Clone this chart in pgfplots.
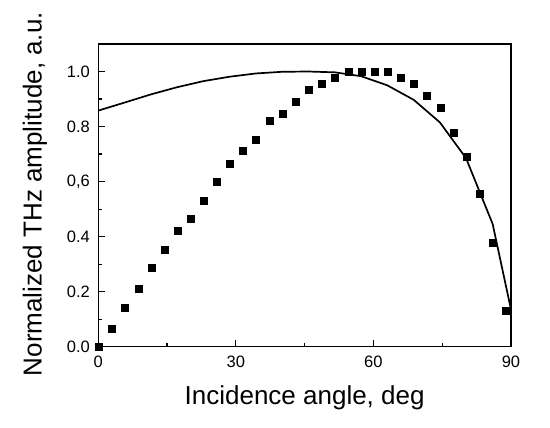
\documentclass[border=0pt]{standalone}
\usepackage{fontspec}
\setmainfont{Liberation Sans}
\usepackage{pgfplots}
\pgfplotsset{compat=1.18}
\begin{document}
\begin{tikzpicture}
\useasboundingbox (0,0) rectangle (550pt,428pt);
\begin{axis}[
  at={(98.3pt,81.3pt)}, anchor=south west,
  scale only axis, width=412.7pt, height=302.7pt,
  xmin=0, xmax=90, ymin=0, ymax=1.1,
  axis line style={line width=1.5pt},
  xtick={0,30,60,90}, xticklabels={0,30,60,90},
  minor xtick={15,45,75},
  ytick={0,0.2,0.4,0.6,0.8,1.0},
  yticklabels={0.0,0.2,0.4,{0,6},0.8,1.0},
  minor ytick={0.1,0.3,0.5,0.7,0.9},
  xtick pos=bottom, ytick pos=left,
  tick align=inside,
  major tick length=6.7pt, minor tick length=3.5pt,
  tick style={line width=1.2pt, black},
  xticklabel style={inner sep=0pt, yshift=-9.3pt, font=\fontsize{16.5}{18}\selectfont},
  yticklabel style={inner sep=0pt, xshift=-8.3pt, font=\fontsize{16.5}{18}\selectfont},
  xlabel={Incidence angle, deg},
  ylabel={Normalized THz amplitude, a.u.},
  xlabel style={at={(axis description cs:0.5,-0.1926)}, anchor=base, inner sep=0pt, font=\fontsize{26}{30}\selectfont},
  ylabel style={at={(axis description cs:-0.1371,0.504)}, anchor=base, rotate=0, inner sep=0pt, font=\fontsize{26}{30}\selectfont},
  clip mode=individual,
]
\addplot[black, line width=1.7pt, mark=none] coordinates {
(0,0.858) (5.7,0.887) (11.5,0.917) (17.2,0.943) (22.9,0.965) (28.6,0.981)
(34.4,0.993) (40.1,0.999) (45.8,1.0) (51.6,0.997) (57.3,0.983) (63.0,0.950)
(68.8,0.897) (74.5,0.815) (80.2,0.685) (86.0,0.446) (90,0.135)
};
\addplot[only marks, mark=square*, mark size=3.5pt, black] coordinates {
(0,0.0) (2.99,0.067) (5.82,0.140) (8.72,0.209) (11.55,0.287) (14.45,0.354)
(17.28,0.422) (20.2,0.465) (23.03,0.532) (25.87,0.599) (28.76,0.665)
(31.6,0.711) (34.43,0.754) (37.33,0.822) (40.16,0.845) (43.08,0.889)
(45.91,0.933) (48.81,0.955) (51.64,0.978) (54.54,1.0) (57.38,1.0)
(60.3,1.0) (63.13,1.0) (65.96,0.978) (68.86,0.955) (71.69,0.912)
(74.59,0.867) (77.42,0.778) (80.34,0.689) (83.18,0.555) (86.07,0.378)
(88.9,0.129)
};
\end{axis}
\end{tikzpicture}
\end{document}
